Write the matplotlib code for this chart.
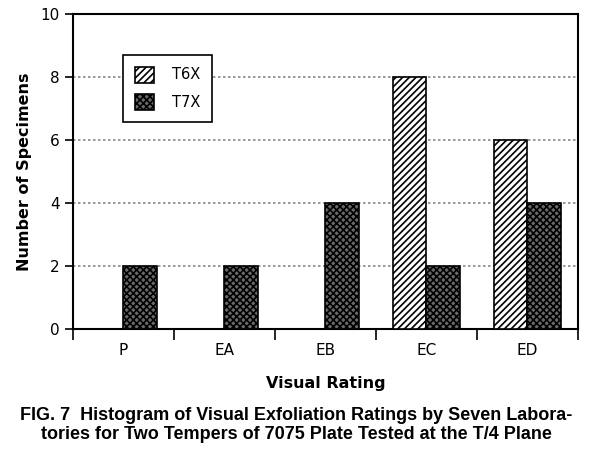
import matplotlib.pyplot as plt
import numpy as np

ratings = ['P', 'EA', 'EB', 'EC', 'ED']
t6x = [0, 0, 0, 8, 6]
t7x = [2, 2, 4, 2, 4]

plt.rcParams['hatch.linewidth'] = 1.2

fig = plt.figure(figsize=(5.92, 4.59), dpi=100)
ax = fig.add_axes([0.1233, 0.2832, 0.853, 0.6863])

x = np.arange(len(ratings))
width = 0.335

ax.bar(x - width/2, t6x, width=width, facecolor='white', edgecolor='black',
       hatch='/////', linewidth=1.2, label='T6X', zorder=3)
ax.bar(x + width/2, t7x, width=width, facecolor='#6a6a6a', edgecolor='black',
       hatch='xxxxx', linewidth=1.2, label='T7X', zorder=3)

ax.set_xlim(-0.5, len(ratings) - 0.5)
ax.set_ylim(0, 10)
ax.set_yticks([0, 2, 4, 6, 8, 10])
ax.set_xticks(x)
ax.set_xticklabels(ratings)
ax.tick_params(axis='x', which='major', length=0, pad=10, labelsize=11)
ax.set_xticks(np.arange(len(ratings) + 1) - 0.5, minor=True)
ax.tick_params(axis='x', which='minor', length=8, width=1.2, direction='out')
ax.tick_params(axis='y', length=6, width=1.2, direction='out', labelsize=11)

for s in ax.spines.values():
    s.set_linewidth(1.5)

for yv in [2, 4, 6, 8]:
    ax.axhline(yv, color='#888888', linestyle=(0, (1.5, 1.5)), linewidth=1.2, zorder=1)

ax.set_ylabel('Number of Specimens', fontweight='bold', fontsize=11.5, labelpad=6)
ax.set_xlabel('Visual Rating', fontweight='bold', fontsize=11.5, labelpad=13)

leg = ax.legend(loc='upper left', bbox_to_anchor=(0.1, 0.87), frameon=True,
                fancybox=False, edgecolor='black', framealpha=1,
                handlelength=1.3, handleheight=1.3, handletextpad=1.2,
                labelspacing=0.8, borderpad=0.8, fontsize=10.5, borderaxespad=0)
leg.get_frame().set_linewidth(1.2)
leg.set_zorder(5)

fig.text(0.5, 0.074, 'FIG. 7  Histogram of Visual Exfoliation Ratings by Seven Labora-\n'
         'tories for Two Tempers of 7075 Plate Tested at the T/4 Plane',
         ha='center', va='center', fontweight='bold', fontsize=13,
         family=['Liberation Sans', 'DejaVu Sans'], linespacing=1.1)

fig.savefig('out.png', dpi=100)
